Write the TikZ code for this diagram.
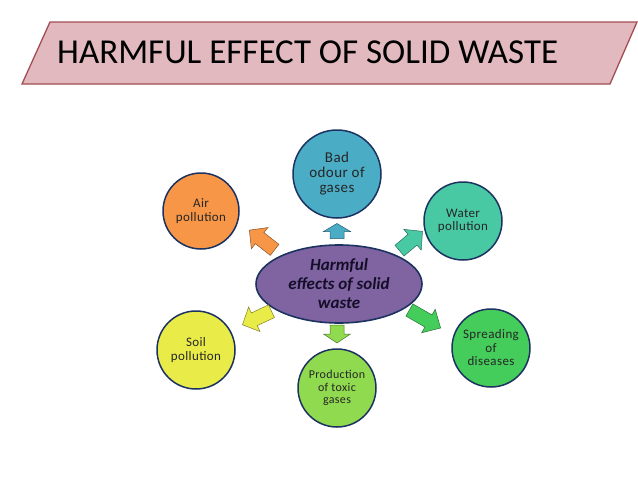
\documentclass[tikz,border=0pt]{standalone}
\usepackage{fontspec}
\setmainfont{Carlito}
\newfontfamily\bubfont[LetterSpace=3]{Carlito}
\usepackage{tikz}
\usetikzlibrary{shapes.geometric}
\definecolor{banfill}{HTML}{E2B9BF}
\definecolor{bandraw}{HTML}{A24E52}
\definecolor{rimnavy}{HTML}{1C3260}
\definecolor{hubpurple}{HTML}{8064A2}
\definecolor{hubtext}{HTML}{140E28}
\definecolor{codour}{HTML}{4BACC6}
\definecolor{cair}{HTML}{F79646}
\definecolor{cwater}{HTML}{48C9A3}
\definecolor{csoil}{HTML}{E9EB48}
\definecolor{ctoxic}{HTML}{90DA4F}
\definecolor{cspread}{HTML}{45CD5C}
\definecolor{bubtext}{gray}{0.15}
\tikzset{
  banner/.style   = {fill=banfill, draw=bandraw, line width=1.3pt, line join=miter},
  titletext/.style= {anchor=base west, inner sep=0pt, font=\fontsize{35}{40}\selectfont},
  hub/.style      = {ellipse, fill=hubpurple, draw=rimnavy, line width=1.6pt,
                     minimum width=166pt, minimum height=78pt, inner sep=0pt,
                     align=center, text=hubtext,
                     font=\bfseries\itshape\fontsize{17}{19}\selectfont},
  bubble/.style   = {circle, fill=#1, draw=rimnavy, line width=1.5pt,
                     minimum size=78pt, inner sep=0pt, align=center, text=bubtext,
                     font=\bubfont\fontsize{13}{13.5}\selectfont},
  blockarr/.style = {fill=#1, draw=#1!55!black, line width=0.5pt, line join=miter},
}
% block arrow: colour, centre x, centre y, angle, length, head length
\newcommand{\blockarrow}[6]{%
  \draw[blockarr=#1, shift={(#2,#3)}, rotate=#4]
    ({-#5/2},-7) -- ({#5/2-#6},-7) -- ({#5/2-#6},-13.5) -- ({#5/2},0)
    -- ({#5/2-#6},13.5) -- ({#5/2-#6},7) -- ({-#5/2},7) -- cycle;}

\begin{document}
\begin{tikzpicture}[x=1pt, y=-1pt, line cap=round, line join=round]
  \useasboundingbox (0,0) rectangle (638,479);
  % title band
  \draw[banner] (50,22) -- (637,22) -- (610,84) -- (22,84) -- cycle;
  \node[titletext] (title) at (57,63) {HARMFUL EFFECT OF SOLID WASTE};
  % centre
  \node[hub] (hub) at (339,284) {Harmful\\effects of solid\\waste};
  % effects
  \node[bubble=codour, minimum size=88pt, font=\bubfont\fontsize{15}{15}\selectfont]
    (odour) at (337,174) {Bad\\odour of\\gases};
  \node[bubble=cair, minimum size=76pt] (air) at (201,211) {Air\\pollution};
  \node[bubble=cwater] (water) at (463,221) {Water\\pollution};
  \node[bubble=csoil] (soil) at (196,350) {Soil\\pollution};
  \node[bubble=ctoxic, font=\bubfont\fontsize{12}{12.5}\selectfont]
    (toxic) at (337,388) {Production\\of toxic\\gases};
  \node[bubble=cspread] (spread) at (491,348) {Spreading\\of\\diseases};
  % block arrows
  \foreach \col/\ax/\ay/\ang/\len/\hd in {codour/337/231/90/15/8, cair/262/240/142/32/13,
      cwater/411/241/40/30/13, csoil/257/318/205/32/13,
      ctoxic/337/334/-90/18/9, cspread/425/319/-30/36/14}
    {\blockarrow{\col}{\ax}{\ay}{\ang}{\len}{\hd}}
\end{tikzpicture}
\end{document}
